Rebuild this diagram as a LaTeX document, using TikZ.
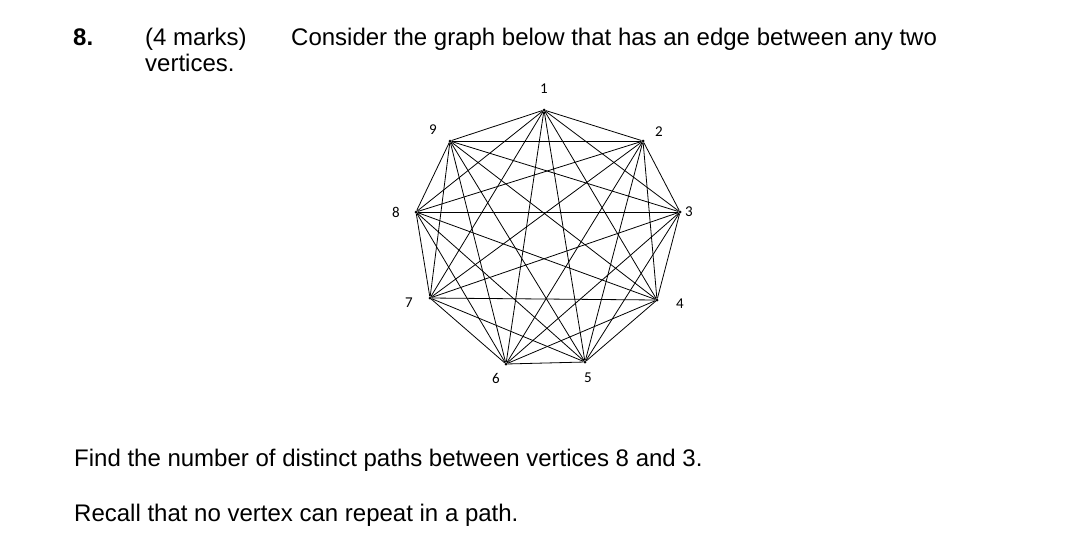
\documentclass[tikz,border=0pt]{standalone}
\usepackage{fontspec}
\setmainfont{Liberation Sans}
\newfontfamily\lab{Carlito}
\begin{document}
\begin{tikzpicture}[x=1pt,y=-1pt,
  txt/.style={anchor=base west,inner sep=0pt,font=\fontsize{24}{28}\selectfont},
  vlab/.style={inner sep=0pt,font=\lab\fontsize{15}{17}\selectfont},
  v/.style={circle,fill,inner sep=0pt,minimum size=3pt},
  e/.style={line width=0.8pt}]
\useasboundingbox (0,0) rectangle (1065,550);
\fill[white] (0,0) rectangle (1065,550);
\node[txt,font=\bfseries\fontsize{24}{28}\selectfont] (n8) at (73,45) {8.};
\node[txt] (marks) at (145,45) {(4 marks)};
\node[txt] (vert) at (145,71) {vertices.};
\node[txt] (cons) at (291,45) {Consider the graph below that has an edge between any two};
\node[txt] (find) at (74,466) {Find the number of distinct paths between vertices 8 and 3.};
\node[txt] (rec) at (74,521) {Recall that no vertex can repeat in a path.};
\node[v] (v1) at (544,110) {};
\node[v] (v2) at (643,141) {};
\node[v] (v3) at (680,212) {};
\node[v] (v4) at (657,300) {};
\node[v] (v5) at (585,362) {};
\node[v] (v6) at (506,364) {};
\node[v] (v7) at (430,298) {};
\node[v] (v8) at (416,212) {};
\node[v] (v9) at (450,141) {};
\foreach \i in {1,...,8}{
  \pgfmathtruncatemacro{\s}{\i+1}
  \foreach \j in {\s,...,9}{ \draw[e] (v\i) -- (v\j); }
}
\node[vlab] (l1) at (544,89) {1};
\node[vlab] (l2) at (659,132) {2};
\node[vlab] (l3) at (689,212) {3};
\node[vlab] (l4) at (680,304) {4};
\node[vlab] (l5) at (588,378) {5};
\node[vlab] (l6) at (496,378) {6};
\node[vlab] (l7) at (409,303) {7};
\node[vlab] (l8) at (396,212) {8};
\node[vlab] (l9) at (433,130) {9};
\end{tikzpicture}
\end{document}
